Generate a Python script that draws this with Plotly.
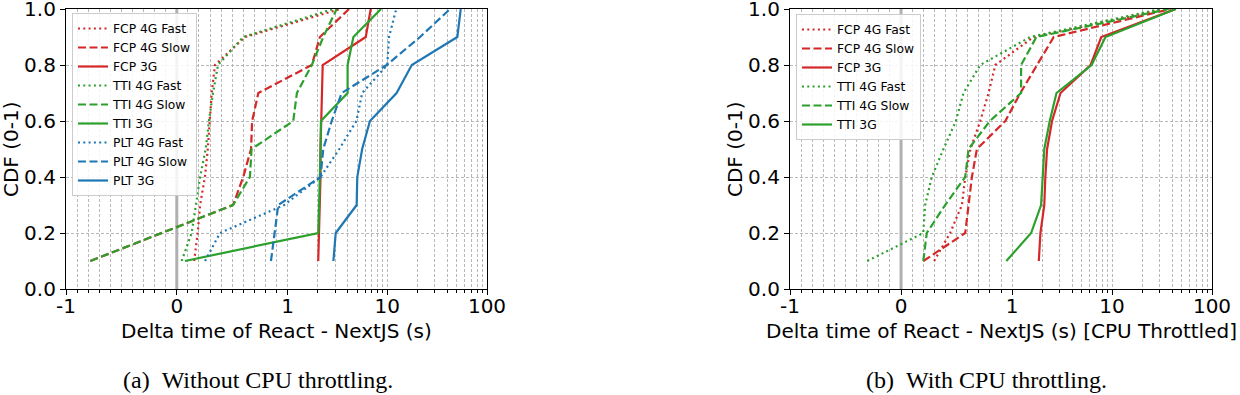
import numpy as np
import plotly.graph_objects as go

# ---------------- data (CDF levels and x values in seconds) ----------------
cdf_levels = [0.1, 0.2, 0.3, 0.4, 0.5, 0.6, 0.7, 0.8, 0.9, 1.0]

# (a) Without CPU throttling
fcp_fast_a = [0.157, 0.189, 0.21, 0.254, 0.28, 0.30, 0.315, 0.345, 0.615, 3.37]
fcp_slow_a = [-0.78, -0.14, 0.508, 0.60, 0.67, 0.68, 0.736, 1.75, 2.11, 4.13]
fcp_3g_a = [2.03, 2.07, 2.12, 2.14, 2.14, 2.18, 2.23, 2.25, 6.08, 6.82]
tti_fast_a = [0.044, 0.134, 0.173, 0.21, 0.261, 0.29, 0.327, 0.372, 0.60, 2.87]
tti_slow_a = [-0.78, -0.14, 0.508, 0.66, 0.675, 1.14, 1.24, 1.75, 2.28, 3.11]
tti_3g_a = [0.074, 2.03, 2.07, 2.12, 2.14, 2.16, 4.0, 4.0, 4.57, 8.65]
plt_fast_a = [0.255, 0.39, 0.97, 2.14, 3.3, 4.9, 5.6, 10.0, 10.4, 12.3]
plt_slow_a = [0.85, 0.88, 0.916, 2.14, 2.28, 2.77, 3.49, 9.87, 21.3, 42.6]
plt_3g_a = [2.88, 3.04, 4.93, 5.0, 5.6, 6.7, 12.4, 17.6, 50.4, 54.5]

# (b) With CPU throttling
fcp_fast_b = [0.298, 0.442, 0.548, 0.578, 0.625, 0.713, 0.788, 0.849, 1.64, 34.4]
fcp_slow_b = [0.201, 0.578, 0.608, 0.638, 0.683, 0.939, 1.21, 1.78, 2.61, 38.6]
fcp_3g_b = [1.85, 1.92, 2.1, 2.15, 2.24, 2.51, 3.05, 6.1, 7.8, 43.4]
tti_fast_b = [-0.304, 0.2, 0.217, 0.277, 0.382, 0.494, 0.562, 0.713, 1.52, 30.6]
tti_slow_b = [0.2, 0.232, 0.397, 0.578, 0.608, 0.80, 1.23, 1.23, 1.75, 37.0]
tti_3g_b = [0.948, 1.55, 1.95, 2.04, 2.1, 2.38, 2.78, 6.24, 8.6, 43.4]

x_tick_values = [-1, 0, 1, 10, 100]
x_tick_labels = ["-1", "0", "1", "10", "100"]
y_tick_values = [0.0, 0.2, 0.4, 0.6, 0.8, 1.0]
y_tick_labels = ["0.0", "0.2", "0.4", "0.6", "0.8", "1.0"]

# ---------------- symlog transform (linthresh=1, linscale=1, base 10) ----------------
LINSCALE = 1.0 / (1.0 - 1.0 / 10.0)


def symlog(v):
    v = np.asarray(v, dtype=float)
    a = np.abs(v)
    return np.where(a <= 1, v * LINSCALE,
                    np.sign(v) * (LINSCALE + np.log10(np.maximum(a, 1.0))))


minor_vals = [i / 10 for i in range(-9, 10) if i != 0]
minor_vals += [k for k in range(2, 10)] + [10 * k for k in range(2, 10)]
minor_t = [float(v) for v in symlog(minor_vals)]

RED, GREEN, BLUE = "#d62728", "#2ca02c", "#1f77b4"
DOT = "2px,3.3px"
DASH = "8px,3.5px"
LW = 2.2

W, H = 1240, 395
# pixel geometry of the two plot areas
ax_a = (66, 487)
ax_b = (790, 1212)
ax_top, ax_bot = 9, 289

fig = go.Figure()

series_a = [
    ("FCP 4G Fast", fcp_fast_a, RED, DOT),
    ("FCP 4G Slow", fcp_slow_a, RED, DASH),
    ("FCP 3G", fcp_3g_a, RED, "solid"),
    ("TTI 4G Fast", tti_fast_a, GREEN, DOT),
    ("TTI 4G Slow", tti_slow_a, GREEN, DASH),
    ("TTI 3G", tti_3g_a, GREEN, "solid"),
    ("PLT 4G Fast", plt_fast_a, BLUE, DOT),
    ("PLT 4G Slow", plt_slow_a, BLUE, DASH),
    ("PLT 3G", plt_3g_a, BLUE, "solid"),
]
series_b = [
    ("FCP 4G Fast", fcp_fast_b, RED, DOT),
    ("FCP 4G Slow", fcp_slow_b, RED, DASH),
    ("FCP 3G", fcp_3g_b, RED, "solid"),
    ("TTI 4G Fast", tti_fast_b, GREEN, DOT),
    ("TTI 4G Slow", tti_slow_b, GREEN, DASH),
    ("TTI 3G", tti_3g_b, GREEN, "solid"),
]

for name, vals, col, dash in series_a:
    fig.add_trace(go.Scatter(x=symlog(vals), y=cdf_levels, mode="lines", name=name,
                             line=dict(color=col, dash=dash, width=LW),
                             xaxis="x", yaxis="y", legend="legend"))
for name, vals, col, dash in series_b:
    fig.add_trace(go.Scatter(x=symlog(vals), y=cdf_levels, mode="lines", name=name,
                             line=dict(color=col, dash=dash, width=LW),
                             xaxis="x2", yaxis="y2", legend="legend2"))

GRID = "rgba(176,176,176,0.9)"
TICKFONT = dict(family="DejaVu Sans", size=20, color="black")


def xaxis_cfg(px_range, anchor):
    return dict(
        domain=[px_range[0] / W, px_range[1] / W], anchor=anchor, automargin=False,
        range=[float(symlog(-1)), float(symlog(100))],
        tickmode="array", tickvals=[float(v) for v in symlog(x_tick_values)],
        ticktext=x_tick_labels, ticklabeloverflow="allow", ticklabelstandoff=-6,
        ticks="outside", ticklen=5, tickwidth=1, tickcolor="black",
        showline=True, linecolor="black", linewidth=1.2, mirror=True,
        showgrid=True, gridcolor=GRID, gridwidth=0.8, griddash="3px,2px",
        zeroline=False, tickfont=TICKFONT,
        minor=dict(tickmode="array", tickvals=minor_t, ticks="outside", ticklen=3,
                   tickwidth=0.8, tickcolor="black", showgrid=True, gridcolor=GRID,
                   gridwidth=0.8, griddash="3px,2px"),
    )


def yaxis_cfg(anchor):
    return dict(
        domain=[(H - ax_bot) / H, (H - ax_top) / H], anchor=anchor, automargin=False,
        range=[0, 1], tickmode="array", tickvals=y_tick_values, ticktext=y_tick_labels,
        ticklabeloverflow="allow",
        ticks="outside", ticklen=5, tickwidth=1, tickcolor="black",
        showline=True, linecolor="black", linewidth=1.2, mirror=True,
        showgrid=True, gridcolor=GRID, gridwidth=0.8, griddash="3px,2px",
        zeroline=False, tickfont=TICKFONT,
    )


legend_common = dict(
    bgcolor="rgba(255,255,255,0.85)", bordercolor="#cccccc", borderwidth=1,
    font=dict(family="DejaVu Sans", size=12.3, color="black"),
    xanchor="left", yanchor="top", tracegroupgap=0, itemwidth=30,
)

fig.update_layout(
    width=W, height=H, margin=dict(l=0, r=0, t=0, b=0, autoexpand=False),
    paper_bgcolor="white", plot_bgcolor="white",
    xaxis=xaxis_cfg(ax_a, "y"), yaxis=yaxis_cfg("x"),
    xaxis2=xaxis_cfg(ax_b, "y2"), yaxis2=yaxis_cfg("x2"),
    legend=dict(x=72 / W, y=1 - 13 / H, **legend_common),
    legend2=dict(x=796 / W, y=1 - 14 / H, **legend_common),
    showlegend=True,
)

# grey zero reference lines
for xref, yref in (("x", "y domain"), ("x2", "y2 domain")):
    fig.add_shape(type="line", xref=xref, yref=yref, x0=0, x1=0, y0=0, y1=1,
                  line=dict(color="rgba(150,150,150,0.75)", width=3), layer="below")

TITLEFONT = dict(family="DejaVu Sans", size=20, color="black")
CAPFONT = dict(family="Liberation Serif", size=24, color="black")
ymid = 1 - ((ax_top + ax_bot) / 2) / H

annotations = [
    dict(text="CDF (0-1)", x=11 / W, y=ymid, textangle=-90, font=TITLEFONT),
    dict(text="CDF (0-1)", x=(ax_b[0] - 55) / W, y=ymid, textangle=-90, font=TITLEFONT),
    dict(text="Delta time of React - NextJS (s)", x=(ax_a[0] + ax_a[1]) / 2 / W,
         y=1 - 331 / H, font=TITLEFONT),
    dict(text="Delta time of React - NextJS (s) [CPU Throttled]",
         x=(ax_b[0] + ax_b[1]) / 2 / W, y=1 - 331 / H, font=TITLEFONT),
    dict(text="(a)\u00a0\u00a0Without CPU throttling.", x=258 / W, y=1 - 380 / H, font=CAPFONT),
    dict(text="(b)\u00a0\u00a0With CPU throttling.", x=986 / W, y=1 - 380 / H, font=CAPFONT),
]
for a in annotations:
    a.update(xref="paper", yref="paper", showarrow=False, xanchor="center", yanchor="middle")
fig.update_layout(annotations=annotations)

fig.write_html("out.html", config={"displayModeBar": False},
               post_script="document.body.style.margin='0';document.body.style.padding='0';"
                           "document.body.style.overflow='hidden';")
